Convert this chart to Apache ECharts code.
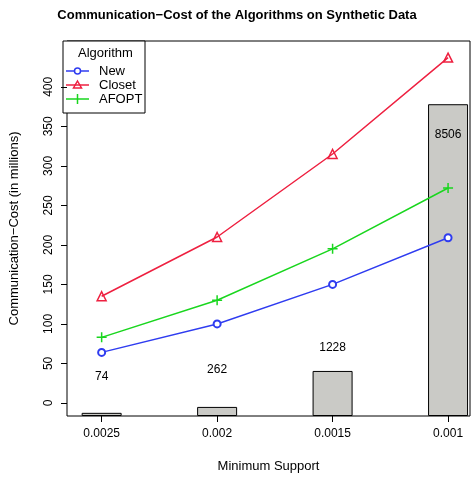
<!DOCTYPE html><html><head><meta charset="utf-8">
<script src="https://cdn.jsdelivr.net/npm/echarts@6/dist/echarts.min.js"></script>
<style>html,body{margin:0;background:#fff}#c{width:474px;height:479px}</style></head><body><div id="c"></div>
<script>
const categories=['0.0025','0.002','0.0015','0.001'];
const newVals=[64,100,150,209];
const closetVals=[135,210,315,437];
const afoptVals=[83,130,195,272];
const barTops=[-12.5,-5,40.5,378];
const barLabels=['74','262','1228','8506'];
const yTicks=[0,50,100,150,200,250,300,350,400];
const YMIN=-16.5,YMAX=458;
const labelDist=[30,31,17,-36];
const ch=echarts.init(document.getElementById('c'));
const f='Liberation Sans';
const pts=a=>a.map((v,i)=>[i,v]);
const T=(x,y,t)=>({type:'text',x:x,y:y,style:{text:t,font:'13px Liberation Sans',fill:'#000',textVerticalAlign:'middle'}});
ch.setOption({
 animation:false,textStyle:{fontFamily:f},
 title:{text:'Communication−Cost of the Algorithms on Synthetic Data',left:'center',top:4,textStyle:{fontSize:13,fontWeight:'bold',color:'#000',fontFamily:f}},
 grid:{left:63,right:4,top:41,bottom:63,show:true,borderColor:'#000',borderWidth:1},
 xAxis:{type:'value',min:-0.3,max:3.19,axisLine:{show:false,onZero:false},splitLine:{show:false},
  axisTick:{customValues:[0,1,2,3],length:6,lineStyle:{color:'#000'}},
  axisLabel:{customValues:[0,1,2,3],formatter:v=>categories[v],fontSize:12,color:'#000',margin:12},
  name:'Minimum Support',nameLocation:'middle',nameGap:44,nameTextStyle:{fontSize:13,color:'#000'}},
 yAxis:[{type:'value',min:YMIN,max:YMAX,axisLine:{show:false,onZero:false},splitLine:{show:false},
  axisTick:{customValues:yTicks,length:6,lineStyle:{color:'#000'}},
  axisLabel:{customValues:yTicks,rotate:90,fontSize:12,color:'#000',margin:12},
  name:'Communication−Cost (in millions)',nameLocation:'middle',nameGap:46,nameTextStyle:{fontSize:13,color:'#000'}},
  {type:'value',min:0,max:YMAX-YMIN,show:false}],
 legend:{show:false},
 series:[
  {type:'bar',yAxisIndex:1,barWidth:40,
   data:barTops.map((v,i)=>({value:[i,v-YMIN],label:{distance:labelDist[i]}})),
   itemStyle:{color:'#cacac6',borderColor:'#000',borderWidth:1},
   label:{show:true,position:'top',formatter:p=>barLabels[p.dataIndex],color:'#000',fontSize:12}},
  {name:'New',type:'line',data:pts(newVals),symbol:'emptyCircle',symbolSize:7,itemStyle:{color:'#2f3cf0'},lineStyle:{width:1.5,color:'#2f3cf0'}},
  {name:'Closet',type:'line',data:pts(closetVals),symbol:'triangle',symbolSize:9,itemStyle:{color:'rgba(0,0,0,0)',borderColor:'#ee2040',borderWidth:1.5},lineStyle:{width:1.5,color:'#ee2040'}},
  {name:'AFOPT',type:'line',data:pts(afoptVals),symbol:'path://M0,5L10,5M5,0L5,10',symbolSize:10,itemStyle:{color:'rgba(0,0,0,0)',borderColor:'#19d61e',borderWidth:1.5},lineStyle:{width:1.5,color:'#19d61e'}}
 ],
 graphic:[
  {type:'rect',shape:{x:63,y:41,width:82,height:72},style:{fill:'#fff',stroke:'#000',lineWidth:1}},
  T(78,53,'Algorithm'),
  {type:'line',shape:{x1:66,y1:71,x2:89,y2:71},style:{stroke:'#2f3cf0',lineWidth:1.5}},
  {type:'circle',shape:{cx:77.5,cy:71,r:3},style:{stroke:'#2f3cf0',fill:'#fff',lineWidth:1.5}},
  T(99,71,'New'),
  {type:'line',shape:{x1:66,y1:85,x2:89,y2:85},style:{stroke:'#ee2040',lineWidth:1.5}},
  {type:'polygon',shape:{points:[[77.5,81],[81.5,88],[73.5,88]]},style:{stroke:'#ee2040',fill:'none',lineWidth:1.5}},
  T(99,85,'Closet'),
  {type:'line',shape:{x1:66,y1:99,x2:89,y2:99},style:{stroke:'#19d61e',lineWidth:1.5}},
  {type:'line',shape:{x1:77.5,y1:94,x2:77.5,y2:104},style:{stroke:'#19d61e',lineWidth:1.5}},
  T(99,99,'AFOPT')
 ]
});
</script></body></html>
